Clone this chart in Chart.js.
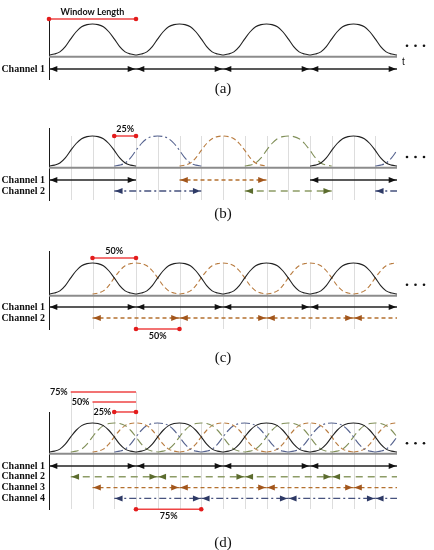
<!DOCTYPE html>
<html>
<head>
<meta charset="utf-8">
<script src="https://cdn.jsdelivr.net/npm/chart.js@4.4.1/dist/chart.umd.min.js"></script>
<style>
    html, body { margin: 0; padding: 0; background: #fff; }
    #wrap { position: relative; width: 434px; height: 550px; overflow: hidden; }
    .panel { position: absolute; left: 0; width: 434px; }
</style>
</head>
<body>
<div id="wrap"></div>
<script>
// time axis in quarter-window steps: 4 window lengths across
const X_MAX = 16;
const WINDOW_SPAN = 4;
const WINDOW_SHAPE = [0, 0.03, 0.1, 0.27, 0.52, 0.75, 0.91, 0.98, 1, 0.98, 0.91, 0.75, 0.52, 0.27, 0.1, 0.03, 0];

// window start times (quarter-window units) for each panel
const STARTS_A = [0, 4, 8, 12];
const STARTS_B = [0, 3, 6, 9, 12, 15];
const STARTS_C = [0, 2, 4, 6, 8, 10, 12, 14];
const STARTS_D = [0, 1, 2, 3, 4, 5, 6, 7, 8, 9, 10, 11, 12, 13, 14, 15];

const CHANNELS_A = ['Channel 1'];
const CHANNELS_B = ['Channel 1', 'Channel 2'];
const CHANNELS_C = ['Channel 1', 'Channel 2'];
const CHANNELS_D = ['Channel 1', 'Channel 2', 'Channel 3', 'Channel 4'];

// colour cycle of the windows in each panel
const SERIES_A = ['black'];
const SERIES_B = ['black', 'blue', 'orange', 'green'];
const SERIES_C = ['black', 'orange'];
const SERIES_D = ['black', 'green', 'orange', 'blue'];

// red span markers: [label, from, to]
const MARKS_A = [['Window Length', 0, 4]];
const MARKS_B = [['25%', 3, 4]];
const MARKS_C = [['50%', 2, 4], ['50%', 4, 6]];
const MARKS_D = [['75%', 1, 4], ['50%', 2, 4], ['25%', 3, 4], ['75%', 4, 7]];

const STYLE = {
    black:  { curve: '#222222', curveDash: [],           arrow: '#222222', arrowDash: [],           head: '#111111', solid: true },
    blue:   { curve: '#56638f', curveDash: [9, 3, 2, 3], arrow: '#46527e', arrowDash: [7, 3, 2, 3], head: '#2e3a66' },
    orange: { curve: '#b97c40', curveDash: [5, 3],       arrow: '#b4702f', arrowDash: [4, 3],       head: '#a2561c' },
    green:  { curve: '#808f58', curveDash: [8, 4],       arrow: '#8d9c66', arrowDash: [7, 5],       head: '#5c6c2e' },
};
const RED_LINE = '#ee4444';
const RED_DOT = '#e31c1c';

// page layout (pixels) of each panel
const PANELS = [
    { caption: '(a)', starts: STARTS_A, channels: CHANNELS_A, series: SERIES_A, marks: MARKS_A,
      top: 0, height: 104, axisTop: 20, axisBottom: 79, base: 55, peak: 24, row1: 69, rowGap: 11,
      captionY: 89, grid: 0, showT: true,
      markPos: [{ axis: 'y', level: 1.16, label: 'above' }] },
    { caption: '(b)', starts: STARTS_B, channels: CHANNELS_B, series: SERIES_B, marks: MARKS_B,
      top: 106, height: 120, axisTop: 128, axisBottom: 200, base: 166, peak: 136, row1: 180, rowGap: 11,
      captionY: 214, grid: 1,
      markPos: [{ axis: 'y', level: 1.0, label: 'above' }] },
    { caption: '(c)', starts: STARTS_C, channels: CHANNELS_C, series: SERIES_C, marks: MARKS_C,
      top: 232, height: 140, axisTop: 251, axisBottom: 329, base: 294, peak: 263, row1: 307, rowGap: 11,
      captionY: 358, grid: 2,
      markPos: [{ axis: 'y', level: 1.16, label: 'above' }, { axis: 'rows', level: 3, label: 'below' }] },
    { caption: '(d)', starts: STARTS_D, channels: CHANNELS_D, series: SERIES_D, marks: MARKS_D,
      top: 374, height: 176, axisTop: 412, axisBottom: 509, base: 452, peak: 423, row1: 466, rowGap: 10.8,
      captionY: 543, grid: 1,
      markPos: [{ axis: 'y', level: 2.07, label: 'left' }, { axis: 'y', level: 1.72, label: 'left' },
                { axis: 'y', level: 1.38, label: 'left' }, { axis: 'rows', level: 5, label: 'below' }] },
];

function buildDatasets(p) {
    const sets = [];
    const step = WINDOW_SPAN / (WINDOW_SHAPE.length - 1);
    p.starts.forEach((s, i) => {
        const st = STYLE[p.series[i % p.series.length]];
        const row = (i % p.channels.length) + 1;
        sets.push({
            data: WINDOW_SHAPE.map((v, k) => ({ x: s + k * step, y: v })),
            yAxisID: 'y', borderColor: st.curve, borderWidth: 1.1, borderDash: st.curveDash,
            pointRadius: 0, cubicInterpolationMode: 'monotone', order: st.solid ? 1 : 2,
        });
        sets.push({
            data: [{ x: s, y: row }, { x: Math.min(s + WINDOW_SPAN, X_MAX), y: row }],
            yAxisID: 'rows', borderColor: st.arrow, borderWidth: 1.4, borderDash: st.arrowDash,
            pointRadius: 0, order: 0,
            heads: [true, s + WINDOW_SPAN <= X_MAX], headColor: st.head,
        });
    });
    // time axis
    sets.push({
        data: [{ x: 0, y: -0.06 }, { x: X_MAX, y: -0.06 }],
        yAxisID: 'y', borderColor: '#8c8c8c', borderWidth: 2, pointRadius: 0, order: 1, clip: false,
    });
    // red span markers
    p.marks.forEach((m, j) => {
        const pos = p.markPos[j];
        sets.push({
            data: [{ x: m[1], y: pos.level }, { x: m[2], y: pos.level }],
            yAxisID: pos.axis, borderColor: RED_LINE, borderWidth: 1.5,
            pointRadius: 2.3, pointBackgroundColor: RED_DOT, pointBorderWidth: 0,
            order: 0, clip: false,
        });
    });
    return sets;
}

function drawHead(ctx, x, y, dir, color) {
    const tip = x - dir * 0.8;
    ctx.fillStyle = color;
    ctx.beginPath();
    ctx.moveTo(tip, y);
    ctx.lineTo(tip - dir * 7.5, y - 3);
    ctx.lineTo(tip - dir * 7.5, y + 3);
    ctx.closePath();
    ctx.fill();
}

function makeDeco(p) {
    return {
        id: 'deco',
        beforeDatasetsDraw(chart) {
            if (!p.grid) return;
            const { ctx, chartArea, scales: { x, y } } = chart;
            const peakPx = y.getPixelForValue(1);
            ctx.save();
            ctx.strokeStyle = '#dddddd';
            ctx.lineWidth = 1;
            for (let q = p.grid; q < X_MAX; q += p.grid) {
                const px = Math.round(x.getPixelForValue(q)) + 0.5;
                let topPx = peakPx;
                p.marks.forEach((m, j) => {
                    const pos = p.markPos[j];
                    if (pos.axis === 'y' && (m[1] === q || m[2] === q)) {
                        topPx = Math.min(topPx, y.getPixelForValue(pos.level));
                    }
                });
                ctx.beginPath();
                ctx.moveTo(px, topPx);
                ctx.lineTo(px, chartArea.bottom);
                ctx.stroke();
            }
            ctx.restore();
        },
        afterDatasetsDraw(chart) {
            const { ctx, chartArea, scales } = chart;
            const { x, y } = scales;
            ctx.save();
            // arrowheads
            chart.data.datasets.forEach((ds, i) => {
                if (!ds.heads) return;
                const pts = chart.getDatasetMeta(i).data;
                const a = pts[0], b = pts[pts.length - 1];
                if (ds.heads[0]) drawHead(ctx, a.x, a.y, -1, ds.headColor);
                if (ds.heads[1]) drawHead(ctx, b.x, b.y, 1, ds.headColor);
            });
            // marker labels
            ctx.fillStyle = '#111';
            ctx.font = 'bold 9px Lato, "Open Sans", sans-serif';
            p.marks.forEach((m, j) => {
                const pos = p.markPos[j];
                const ly = scales[pos.axis].getPixelForValue(pos.level);
                const x0 = x.getPixelForValue(m[1]), x1 = x.getPixelForValue(m[2]);
                ctx.textBaseline = 'middle';
                if (pos.label === 'left') {
                    ctx.textAlign = 'right';
                    ctx.fillText(m[0], x0 - 3, ly);
                } else {
                    ctx.textAlign = 'center';
                    ctx.fillText(m[0], (x0 + x1) / 2, pos.label === 'above' ? ly - 6.5 : ly + 7);
                }
            });
            // continuation dots
            const dotY = y.getPixelForValue(0.3);
            ctx.fillStyle = '#111';
            [10, 18.5, 27].forEach(dx => {
                ctx.beginPath();
                ctx.arc(chartArea.right + dx, dotY, 1.3, 0, Math.PI * 2);
                ctx.fill();
            });
            if (p.showT) {
                ctx.font = '10px "Liberation Sans", sans-serif';
                ctx.textAlign = 'left';
                ctx.textBaseline = 'middle';
                ctx.fillText('t', chartArea.right + 5, y.getPixelForValue(-0.06) + 5);
            }
            // caption
            ctx.font = '15px "Liberation Serif", serif';
            ctx.textAlign = 'center';
            ctx.textBaseline = 'middle';
            ctx.fillText(p.caption, (chartArea.left + chartArea.right) / 2, p.captionY - p.top);
            ctx.restore();
        },
    };
}

function renderPanel(p) {
    const box = document.createElement('div');
    box.className = 'panel';
    box.style.top = p.top + 'px';
    box.style.height = p.height + 'px';
    const canvas = document.createElement('canvas');
    box.appendChild(canvas);
    document.getElementById('wrap').appendChild(box);

    const s = p.base - p.peak;
    const rows = p.channels.map((_, i) => i + 1);
    new Chart(canvas, {
        type: 'line',
        data: { datasets: buildDatasets(p) },
        options: {
            responsive: true,
            maintainAspectRatio: false,
            animation: false,
            events: [],
            layout: { padding: { left: 0, right: 37, top: p.axisTop - p.top, bottom: p.top + p.height - p.axisBottom } },
            plugins: { legend: { display: false }, tooltip: { enabled: false } },
            scales: {
                x: { type: 'linear', min: 0, max: X_MAX, display: false },
                y: { type: 'linear', display: false,
                     min: -(p.axisBottom - p.base) / s, max: (p.base - p.axisTop) / s },
                rows: {
                    type: 'linear', axis: 'y', position: 'left', reverse: true,
                    min: 1 - (p.row1 - p.axisTop) / p.rowGap,
                    max: 1 + (p.axisBottom - p.row1) / p.rowGap,
                    grid: { display: false, drawTicks: false },
                    border: { display: true, color: '#1a1a1a', width: 1 },
                    ticks: {
                        autoSkip: false, padding: 4, color: '#111',
                        font: { family: '"Liberation Serif", serif', size: 10, weight: 'bold' },
                        callback: v => p.channels[v - 1],
                    },
                    afterBuildTicks: scale => { scale.ticks = rows.map(v => ({ value: v })); },
                    afterFit: scale => { scale.width = 49; },
                },
            },
        },
        plugins: [makeDeco(p)],
    });
}

PANELS.forEach(renderPanel);
</script>
</body>
</html>
